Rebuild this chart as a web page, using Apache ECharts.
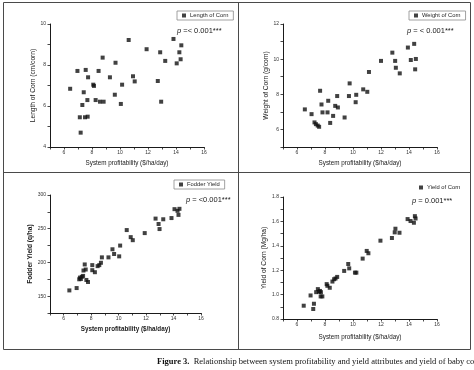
<!DOCTYPE html>
<html><head><meta charset="utf-8">
<script src="https://cdn.jsdelivr.net/npm/echarts@6/dist/echarts.min.js"></script>
<style>html,body{margin:0;padding:0;background:#fff}#c{width:474px;height:370px}</style>
</head><body><div id="c"></div>
<script>
// Panel 1: Length of Corn
const x1 = [6.44, 6.96, 7.13, 7.19, 7.31, 7.41, 7.50, 7.55, 7.67, 7.69, 7.72, 8.09, 8.14, 8.26, 8.47, 8.57, 8.76, 8.83, 9.28, 9.63, 9.68, 10.06, 10.15, 10.62, 10.93, 11.05, 11.90, 12.70, 12.87, 12.94, 13.23, 13.82, 14.05, 14.24, 14.33, 14.38];
const y1 = [6.84, 7.71, 5.45, 4.70, 6.05, 6.67, 5.45, 7.76, 6.29, 5.48, 7.40, 7.04, 6.98, 6.29, 7.71, 6.21, 8.36, 6.21, 7.40, 6.55, 8.11, 6.10, 7.04, 9.22, 7.45, 7.20, 8.77, 7.22, 8.62, 6.21, 8.20, 9.27, 8.08, 8.62, 8.28, 8.96];
// Panel 2: Weight of Corn
const x2 = [6.56, 7.04, 7.25, 7.35, 7.48, 7.58, 7.65, 7.75, 7.82, 8.18, 8.23, 8.37, 8.58, 8.73, 8.87, 8.92, 9.40, 9.71, 9.76, 10.19, 10.23, 10.73, 11.02, 11.14, 12.00, 12.81, 13.01, 13.06, 13.34, 13.92, 14.13, 14.37, 14.44, 14.49];
const y2 = [7.14, 6.87, 6.40, 6.30, 6.22, 6.15, 8.20, 7.42, 6.97, 6.97, 7.63, 6.37, 6.77, 7.34, 7.90, 7.25, 6.68, 7.90, 8.62, 7.55, 7.97, 8.28, 8.14, 9.27, 9.90, 10.37, 9.90, 9.51, 9.19, 10.66, 9.95, 10.87, 9.42, 10.01];
// Panel 3: Fodder Yield
const x3 = [6.41, 6.94, 7.13, 7.18, 7.25, 7.32, 7.41, 7.44, 7.53, 7.60, 7.65, 7.77, 8.08, 8.08, 8.27, 8.47, 8.59, 8.71, 8.78, 9.26, 9.55, 9.67, 10.04, 10.11, 10.59, 10.88, 11.03, 11.90, 12.69, 12.91, 12.98, 13.25, 13.85, 14.07, 14.29, 14.36, 14.43];
const y3 = [158.5, 162, 175, 177.5, 175.5, 178.7, 180, 188, 197, 189.5, 174, 171, 188.5, 196, 185.5, 194.5, 196, 199.5, 207.5, 207.5, 219.5, 212.5, 209, 225, 248, 237.5, 233, 243.5, 265, 257, 249.5, 264, 265.8, 279, 276.5, 270.5, 279.5];
// Panel 4: Yield of Corn
const x4 = [6.48, 6.97, 7.16, 7.21, 7.37, 7.49, 7.57, 7.64, 7.69, 7.71, 7.81, 8.12, 8.17, 8.34, 8.53, 8.65, 8.75, 8.87, 9.37, 9.66, 9.73, 10.14, 10.24, 10.69, 10.98, 11.10, 11.96, 12.78, 12.98, 13.03, 13.32, 13.90, 14.11, 14.35, 14.42, 14.47];
const y4 = [0.909, 0.993, 0.882, 0.925, 1.02, 1.045, 1.023, 1.03, 0.985, 1.02, 0.985, 1.086, 1.072, 1.056, 1.107, 1.126, 1.132, 1.145, 1.194, 1.251, 1.215, 1.18, 1.18, 1.295, 1.358, 1.339, 1.442, 1.464, 1.51, 1.54, 1.507, 1.619, 1.603, 1.589, 1.643, 1.624];

const seriesNames = ['Length of Corn', 'Weight of Corn', 'Fodder Yield', 'Yield of Corn'];
const yNames = ['Length of Corn (cm/corn)', 'Weight of Corn (g/corn)', 'Fodder Yield (q/ha)', 'Yield of Corn (Mg/ha)'];
const xName = 'System profitability ($/ha/day)';
const pTexts = ['{i|p} =< 0.001***', '{i|p} = < 0.001***', '{i|p} = <0.001***', '{i|p} = 0.001***'];
const caption = '{b|Figure 3.}  Relationship between system profitability and yield attributes and yield of baby corn.';

const pair = (xs, ys) => xs.map((v, i) => [v, ys[i]]);
const SANS = '"Liberation Sans", Arial, sans-serif';
const INK = '#1a1a1a';

const grids = [
  {left: 50, top: 24, width: 154, height: 123},
  {left: 283, top: 24, width: 154, height: 123},
  {left: 50, top: 195, width: 151, height: 118},
  {left: 283, top: 197, width: 154, height: 122}
];

function xAxis(gi, gap, bold) {
  return {
    type: 'value', gridIndex: gi, min: 5, max: 16, interval: 1,
    name: xName, nameLocation: 'middle', nameGap: gap,
    nameTextStyle: {fontFamily: SANS, fontSize: 6.3, color: INK, fontWeight: bold ? 'bold' : 'normal'},
    axisLine: {lineStyle: {color: INK, width: 1}},
    axisTick: {length: 2.5, lineStyle: {color: INK, width: 0.8}},
    axisLabel: {fontFamily: SANS, fontSize: 5, color: '#333', margin: 3,
      formatter: v => (Math.round(v) % 2 === 0 ? String(Math.round(v)) : '')},
    splitLine: {show: false}
  };
}
function yAxis(gi, min, max, interval, gap, bold, fmt) {
  return {
    type: 'value', gridIndex: gi, min: min, max: max, interval: interval,
    name: yNames[gi], nameLocation: 'middle', nameGap: gap, nameRotate: 90,
    nameTextStyle: {fontFamily: SANS, fontSize: 6.6, color: INK, fontWeight: bold ? 'bold' : 'normal'},
    axisLine: {show: true, lineStyle: {color: INK, width: 1}},
    axisTick: {length: 2.5, lineStyle: {color: INK, width: 0.8}},
    axisLabel: {fontFamily: SANS, fontSize: 5, color: '#333', margin: 4, formatter: fmt},
    splitLine: {show: false}
  };
}

const legendBase = (name, left, top, border) => ({
  data: [name], left: left, top: top, orient: 'horizontal', selectedMode: false,
  icon: 'rect', itemWidth: 4, itemHeight: 4, itemGap: 4,
  padding: [1.5, 5, 1.5, 5],
  borderColor: border ? '#8a8a8a' : 'transparent', borderWidth: border ? 0.8 : 0,
  textStyle: {fontFamily: SANS, fontSize: 5.8, color: '#222', padding: [0, 0, 0, -1]}
});

const pTitle = (i, left, top) => ({
  text: pTexts[i], left: left, top: top, padding: 0,
  textStyle: {fontFamily: SANS, fontSize: 7.5, fontWeight: 'normal', color: INK,
    rich: {i: {fontFamily: SANS, fontSize: 7.5, fontStyle: 'italic', color: INK}}}
});

const sym = {symbol: 'rect', symbolSize: 4, itemStyle: {color: '#111'}};
const series = [pair(x1, y1), pair(x2, y2), pair(x3, y3), pair(x4, y4)].map((d, i) => Object.assign({
  type: 'scatter', name: seriesNames[i], xAxisIndex: i, yAxisIndex: i, data: d, silent: true
}, sym));

const L = '#4a4a4a';
const line = (x1_, y1_, x2_, y2_) => ({type: 'line', shape: {x1: x1_, y1: y1_, x2: x2_, y2: y2_}, style: {stroke: L, lineWidth: 1}, silent: true});

const SERIF = '"Liberation Serif", "Times New Roman", serif';
const option = {
  backgroundColor: '#fff',
  animation: false,
  grid: grids,
  xAxis: [xAxis(0, 13.5, false), xAxis(1, 13.5, false), xAxis(2, 13, true), xAxis(3, 15, false)],
  yAxis: [
    yAxis(0, 4, 10, 1, 11.5, false, v => (Math.round(v) % 2 === 0 ? String(Math.round(v)) : '')),
    yAxis(1, 5, 12, 1, 12, false, v => (Math.round(v) % 2 === 0 ? String(Math.round(v)) : '')),
    yAxis(2, 125, 300, 25, 15.5, true, v => (Math.round(v) % 50 === 0 ? String(Math.round(v)) : '')),
    yAxis(3, 0.8, 1.8, 0.1, 12.5, false, v => (Math.round(v * 10) % 2 === 0 ? v.toFixed(1) : ''))
  ],
  legend: [
    legendBase(seriesNames[0], 177, 11, true),
    legendBase(seriesNames[1], 409, 11, true),
    legendBase(seriesNames[2], 174, 180, true),
    legendBase(seriesNames[3], 414, 183, false)
  ],
  title: [
    pTitle(0, 177, 26.5),
    pTitle(1, 407, 26.5),
    pTitle(2, 186, 196),
    pTitle(3, 412, 197),
    {text: caption, left: 157, top: 357, padding: 0,
      textStyle: {fontFamily: SERIF, fontSize: 8.5, fontWeight: 'normal', color: '#111',
        rich: {b: {fontFamily: SERIF, fontSize: 8.5, fontWeight: 'bold', color: '#111'}}}}
  ],
  graphic: [
    line(3.5, 2.5, 470.5, 2.5),
    line(3.5, 2.5, 3.5, 349.5),
    line(470.5, 2.5, 470.5, 349.5),
    line(3.5, 349.5, 470.5, 349.5),
    line(238.5, 2.5, 238.5, 349.5),
    line(3.5, 172.5, 470.5, 172.5)
  ],
  series: series
};
const chart = echarts.init(document.getElementById('c'), null, {renderer: 'canvas'});
chart.setOption(option);
</script></body></html>
